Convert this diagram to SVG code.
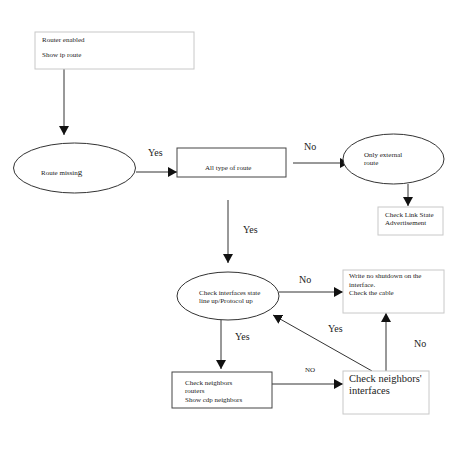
<svg xmlns="http://www.w3.org/2000/svg" width="474" height="474" viewBox="0 0 474 474">
<style>
text{font-family:"Liberation Serif","Times New Roman",serif;fill:#222}
.s{font-size:7px}
.l{font-size:10px}
.m{font-size:10.5px}
.lb{fill:#fff;stroke:#c8c8c8;stroke-width:1}
.db{fill:#fff;stroke:#444;stroke-width:1}
.el{fill:#fff;stroke:#333;stroke-width:1}
.c{stroke:#333;stroke-width:1;fill:none;marker-end:url(#ah)}
</style>
<defs>
<marker id="ah" markerWidth="10" markerHeight="10" refX="9" refY="5" orient="auto" markerUnits="userSpaceOnUse">
<path d="M0,0 L9,5 L0,10 Z" fill="#111"/>
</marker>
</defs>
<rect width="474" height="474" fill="#fff"/>
<g id="connectors">
<line class="c" x1="64" y1="69" x2="64" y2="135"/>
<line class="c" x1="136" y1="172" x2="177" y2="172"/>
<line class="c" x1="293" y1="163" x2="349" y2="163"/>
<line class="c" x1="408" y1="184" x2="408" y2="206"/>
<line class="c" x1="228" y1="200" x2="228" y2="263"/>
<line class="c" x1="279" y1="292" x2="343" y2="292"/>
<line class="c" x1="221" y1="320" x2="221" y2="369"/>
<line class="c" x1="272" y1="384" x2="343" y2="384"/>
<line class="c" x1="386" y1="371" x2="386" y2="313"/>
<line class="c" x1="372" y1="371" x2="273" y2="315"/>
<text class="l" x="148" y="156">Yes</text>
<text class="l" x="304" y="150">No</text>
<text class="l" x="243" y="233">Yes</text>
<text class="l" x="299" y="283">No</text>
<text class="l" x="235" y="340">Yes</text>
<text class="l" x="328" y="332">Yes</text>
<text class="s" x="305" y="372">NO</text>
<text class="l" x="414" y="347">No</text>
</g>
<g id="router-enabled">
<rect class="lb" x="35" y="32" width="159" height="37"/>
<text class="s" x="42" y="42">Router enabled</text>
<text class="s" x="42" y="57">Show ip route</text>
</g>
<g id="route-missing">
<ellipse class="el" cx="74.5" cy="168" rx="61" ry="25"/>
<text class="s" x="41" y="175">Route missin<tspan font-size="9">g</tspan></text>
</g>
<g id="all-type">
<rect class="db" x="177" y="148" width="109" height="29"/>
<text class="s" x="205" y="170">All type of route</text>
</g>
<g id="only-external">
<ellipse class="el" cx="393.5" cy="159" rx="50.5" ry="25"/>
<text class="s" x="364" y="157">Only external</text>
<text class="s" x="364" y="165">route</text>
</g>
<g id="link-state">
<rect class="lb" x="378" y="207" width="65" height="28"/>
<text class="s" x="385" y="217">Check Link State</text>
<text class="s" x="385" y="225">Advertisement</text>
</g>
<g id="check-interfaces">
<ellipse class="el" cx="228" cy="296" rx="51" ry="24"/>
<text class="s" x="199" y="295">Check interfaces state</text>
<text class="s" x="199" y="303">line up/Protocol up</text>
</g>
<g id="write-no-shutdown">
<rect class="lb" x="343" y="270" width="101" height="43"/>
<text class="s" x="349" y="278">Write no shutdown  on the</text>
<text class="s" x="349" y="287">interface.</text>
<text class="s" x="349" y="295">Check the cable</text>
</g>
<g id="check-neighbors">
<rect class="db" x="172" y="372" width="100" height="36"/>
<text class="s" x="185" y="385">Check neighbors</text>
<text class="s" x="185" y="393">routers</text>
<text class="s" x="185" y="402">Show cdp neighbors</text>
</g>
<g id="check-neighbors-interfaces">
<rect class="lb" x="343" y="371" width="86" height="43"/>
<text class="m" x="349" y="382">Check neighbors'</text>
<text class="m" x="349" y="394">interfaces</text>
</g>
</svg>
